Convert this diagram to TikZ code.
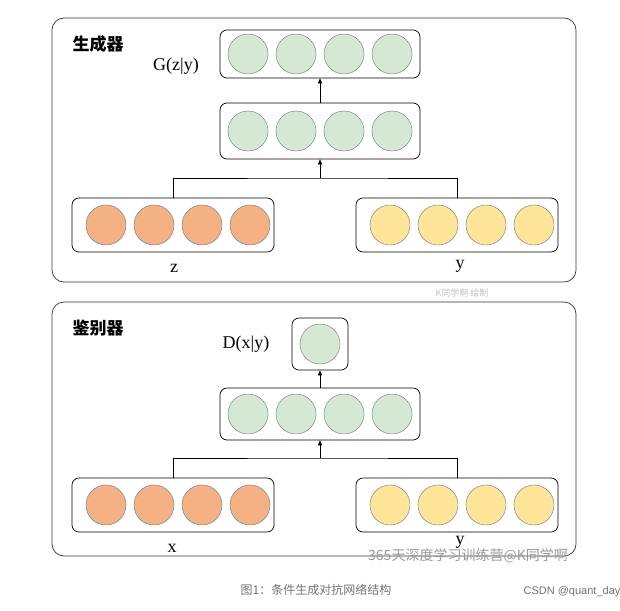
\documentclass[tikz,border=0pt]{standalone}
\usepackage{fontspec}
\setmainfont{Liberation Serif}
\newfontfamily\cjk{Noto Sans CJK SC}
\usetikzlibrary{arrows.meta}
\begin{document}
\begin{tikzpicture}[x=1pt,y=-1pt,
  panel/.style={draw=black!80,rounded corners=12pt,line width=0.7pt},
  row/.style={draw=black,rounded corners=7pt,line width=0.7pt},
  gc/.style={circle,draw=black!55,fill=green!15!white,fill=gcol,minimum size=40pt,inner sep=0pt},
  oc/.style={circle,draw=black!55,fill=ocol,minimum size=40pt,inner sep=0pt},
  yc/.style={circle,draw=black!55,fill=ycol,minimum size=40pt,inner sep=0pt},
  conn/.style={draw=black,line width=0.6pt},
  arr/.style={conn,-{Triangle[length=5pt,width=4pt]}},
  lab/.style={font=\fontsize{18}{20}\selectfont},
  ttl/.style={font=\cjk\fontsize{17}{20}\selectfont\bfseries},
  wm/.style={text=black!40,font=\cjk\fontsize{14}{16}\selectfont}]
\definecolor{gcol}{HTML}{D5E8D4}
\definecolor{ocol}{HTML}{F4B183}
\definecolor{ycol}{HTML}{FFE599}
\useasboundingbox[fill=white] (0,0) rectangle (620,610);
% panel 1
\node[panel,minimum width=524pt,minimum height=264pt] (p1) at (314,150) {};
\node[ttl] (t1) at (98,44) {生成器};
\node[row,minimum width=200pt,minimum height=48pt] (g2) at (320,54) {};
\node[row,minimum width=200pt,minimum height=56pt] (g1) at (320,131) {};
\node[row,minimum width=202pt,minimum height=54pt] (zr) at (173,225) {};
\node[row,minimum width=202pt,minimum height=54pt] (yr) at (457,225) {};
\foreach \i/\x in {1/248,2/296,3/344,4/392}{
  \node[gc] (ga\i) at (\x,54) {};
  \node[gc] (gb\i) at (\x,131) {};}
\foreach \i/\x in {1/106,2/154,3/202,4/250}{\node[oc] (zo\i) at (\x,225) {};}
\foreach \i/\x in {1/390,2/438,3/486,4/534}{\node[yc] (yo\i) at (\x,225) {};}
\coordinate (j1) at (320,178);
\draw[conn] (zr.north) |- (j1) -| (yr.north);
\draw[arr] (j1) -- (g1.south);
\draw[arr] (g1.north) -- (g2.south);
\node[lab] (gl) at (176,66) {G(z|y)};
\node[lab] (zl) at (174,268) {z};
\node[lab] (yl) at (460,266) {y};
\node[wm,font=\cjk\fontsize{9}{10}\selectfont,text=black!25] (w1) at (462,293) {K同学啊 绘制};
% panel 2
\node[panel,minimum width=524pt,minimum height=254pt] (p2) at (314,429) {};
\node[ttl] (t2) at (98,328) {鉴别器};
\node[row,minimum width=56pt,minimum height=52pt] (d2) at (320,344) {};
\node[gc] (dc) at (320,344) {};
\node[row,minimum width=200pt,minimum height=52pt] (d1) at (320,414) {};
\node[row,minimum width=202pt,minimum height=54pt] (xr) at (173,505) {};
\node[row,minimum width=202pt,minimum height=54pt] (yr2) at (457,505) {};
\foreach \i/\x in {1/248,2/296,3/344,4/392}{\node[gc] (da\i) at (\x,414) {};}
\foreach \i/\x in {1/106,2/154,3/202,4/250}{\node[oc] (xo\i) at (\x,505) {};}
\foreach \i/\x in {1/390,2/438,3/486,4/534}{\node[yc] (y2o\i) at (\x,505) {};}
\coordinate (j2) at (320,458);
\draw[conn] (xr.north) |- (j2) -| (yr2.north);
\draw[arr] (j2) -- (d1.south);
\draw[arr] (d1.north) -- (d2.south);
\node[lab] (dl) at (246,344) {D(x|y)};
\node[lab] (xl) at (172,548) {x};
\node[lab] (yl2) at (460,542) {y};
\node[wm] (w2) at (468,556) {365天深度学习训练营@K同学啊};
\node[wm,text=black!55,font=\cjk\fontsize{12}{14}\selectfont] (cap) at (316,590) {图1：条件生成对抗网络结构};
\node[wm,text=black!55,font=\fontspec{Liberation Sans}\fontsize{11}{13}\selectfont] (cs) at (572,592) {CSDN @quant\_day};
\end{tikzpicture}
\end{document}
